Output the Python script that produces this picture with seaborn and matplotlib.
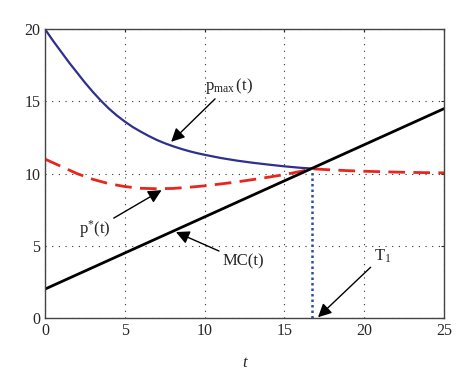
import numpy as np
import pandas as pd
import matplotlib
matplotlib.use("Agg")
import matplotlib.pyplot as plt
import seaborn as sns

# values
t_max = [0, 0.5, 1, 1.5, 2, 2.5, 3, 3.5, 4, 4.5, 5, 5.5, 6, 6.5, 7, 7.5, 8,
         8.5, 9, 9.5, 10, 11, 12, 13, 14, 15, 16, 16.7]
p_max = [20.0, 19.2, 18.45, 17.7, 17.0, 16.3, 15.65, 15.05, 14.5, 14.02, 13.6,
         13.22, 12.9, 12.6, 12.33, 12.1, 11.9, 11.72, 11.56, 11.42, 11.3,
         11.08, 10.9, 10.75, 10.62, 10.5, 10.4, 10.35]

t_star = [0, 1, 2, 3, 4, 5, 6, 7, 8, 9, 10, 11, 12, 13, 14, 15, 16, 16.7,
          18, 19, 20, 21, 22, 23, 24, 25]
p_star = [11.0, 10.5, 10.0, 9.6, 9.3, 9.1, 8.98, 8.95, 8.97, 9.05, 9.15, 9.28,
          9.42, 9.58, 9.75, 9.93, 10.15, 10.33, 10.25, 10.2, 10.16, 10.13,
          10.1, 10.08, 10.06, 10.05]

t_mc = [0, 25]
mc = [2.0, 14.5]

T1 = 16.7
T1_level = 10.35

sns.set_style("white")
plt.rcParams["font.family"] = ["Liberation Serif", "DejaVu Serif"]
plt.rcParams["mathtext.fontset"] = "custom"
plt.rcParams["mathtext.rm"] = "Liberation Serif"
plt.rcParams["mathtext.it"] = "Liberation Serif:italic"

fig = plt.figure(figsize=(4.74, 3.84), dpi=100)
ax = fig.add_axes([0.095, 0.172, 0.842, 0.752])

sns.lineplot(x=t_max, y=p_max, color="#2e2f8f", linewidth=1.6, ax=ax)
sns.lineplot(x=t_star, y=p_star, color="#e8261d", linewidth=2.0, ax=ax)
ax.lines[-1].set_dashes([6, 3])
sns.lineplot(x=t_mc, y=mc, color="black", linewidth=2.0, ax=ax)
sns.lineplot(x=[T1, T1], y=[0, T1_level], color="#2a4fa8", linewidth=1.8,
             estimator=None, sort=False, ax=ax)
ax.lines[-1].set_linestyle((0, (1, 1.2)))

ax.set_xlim(0, 25)
ax.set_ylim(0, 20)
ax.set_xticks([0, 5, 10, 15, 20, 25])
ax.set_yticks([0, 5, 10, 15, 20])
ax.tick_params(labelsize=11.5, direction="in", length=2, top=True, right=True)
ax.grid(True, color="#333333", linestyle=(0, (1, 5)), linewidth=0.8)
for s in ax.spines.values():
    s.set_color("#444444")
    s.set_linewidth(1.0)

ax.set_xlabel("t", fontstyle="italic", fontsize=12, labelpad=12)

arrow = dict(arrowstyle="-|>", color="black", lw=1.0, mutation_scale=20,
             shrinkA=0, shrinkB=0)
fs = 12
ax.annotate(r"$\mathrm{p_{max}\,(t)}$", xy=(7.9, 12.2), xytext=(10.0, 15.4),
            fontsize=fs, ha="left", va="bottom", arrowprops=arrow)
ax.annotate(r"$\mathrm{p^{*}(t)}$", xy=(7.3, 8.85), xytext=(4.1, 6.9),
            fontsize=fs, ha="right", va="top", arrowprops=arrow)
ax.annotate("MC(t)", xy=(8.2, 5.95), xytext=(11.1, 3.9),
            fontsize=fs, ha="left", va="center", arrowprops=arrow)
ax.annotate(r"$\mathrm{T_1}$", xy=(17.1, 0.05), xytext=(20.6, 3.7),
            fontsize=fs, ha="left", va="bottom", arrowprops=arrow)

fig.savefig("out.png", dpi=100)
